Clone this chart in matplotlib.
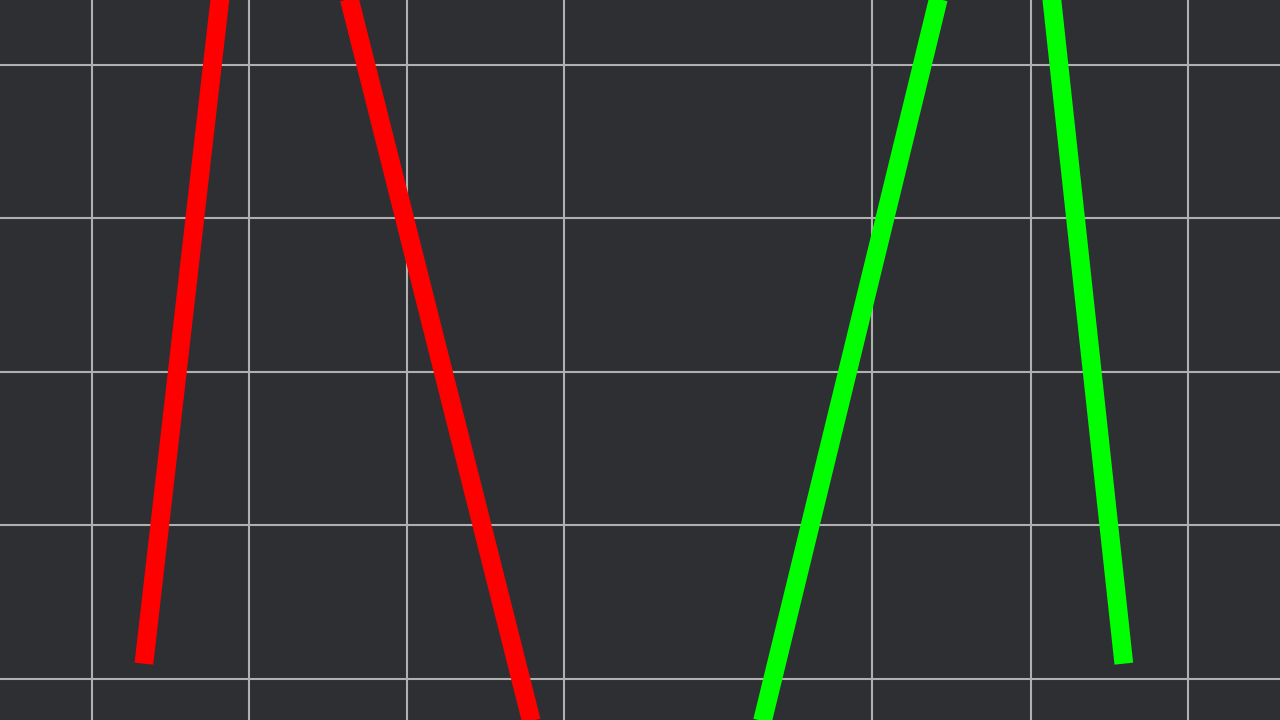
import matplotlib
matplotlib.use("Agg")
import matplotlib.pyplot as plt

# line paths (grid units), peaks run off the top of the frame
red_x = [0.33, 1.07, 2.92]
red_y = [0.10, 6.73, -0.79]
green_x = [4.14, 5.88, 6.56]
green_y = [-0.79, 6.53, 0.10]

grid_x = [0, 1, 2, 3, 4.96, 5.97, 6.97]
grid_y = [0, 1, 2, 3, 4]

bg = "#2e2f33"

fig = plt.figure(figsize=(12.8, 7.2), dpi=100, facecolor=bg)
ax = fig.add_axes([0, 0, 1, 1])
ax.set_facecolor(bg)

for gx in grid_x:
    ax.axvline(gx, color="#b0b0b0", lw=1.5, zorder=1)
for gy in grid_y:
    ax.axhline(gy, color="#b0b0b0", lw=1.5, zorder=1)

ax.plot(red_x, red_y, color="#ff0000", lw=13.5, solid_capstyle="butt",
        solid_joinstyle="miter", zorder=3)
ax.plot(green_x, green_y, color="#00ff00", lw=13.5, solid_capstyle="butt",
        solid_joinstyle="miter", zorder=3)

ax.set_xlim(-0.585, 7.553)
ax.set_ylim(-0.267, 4.423)
ax.axis("off")

fig.savefig("out.png", dpi=100, facecolor=bg)
